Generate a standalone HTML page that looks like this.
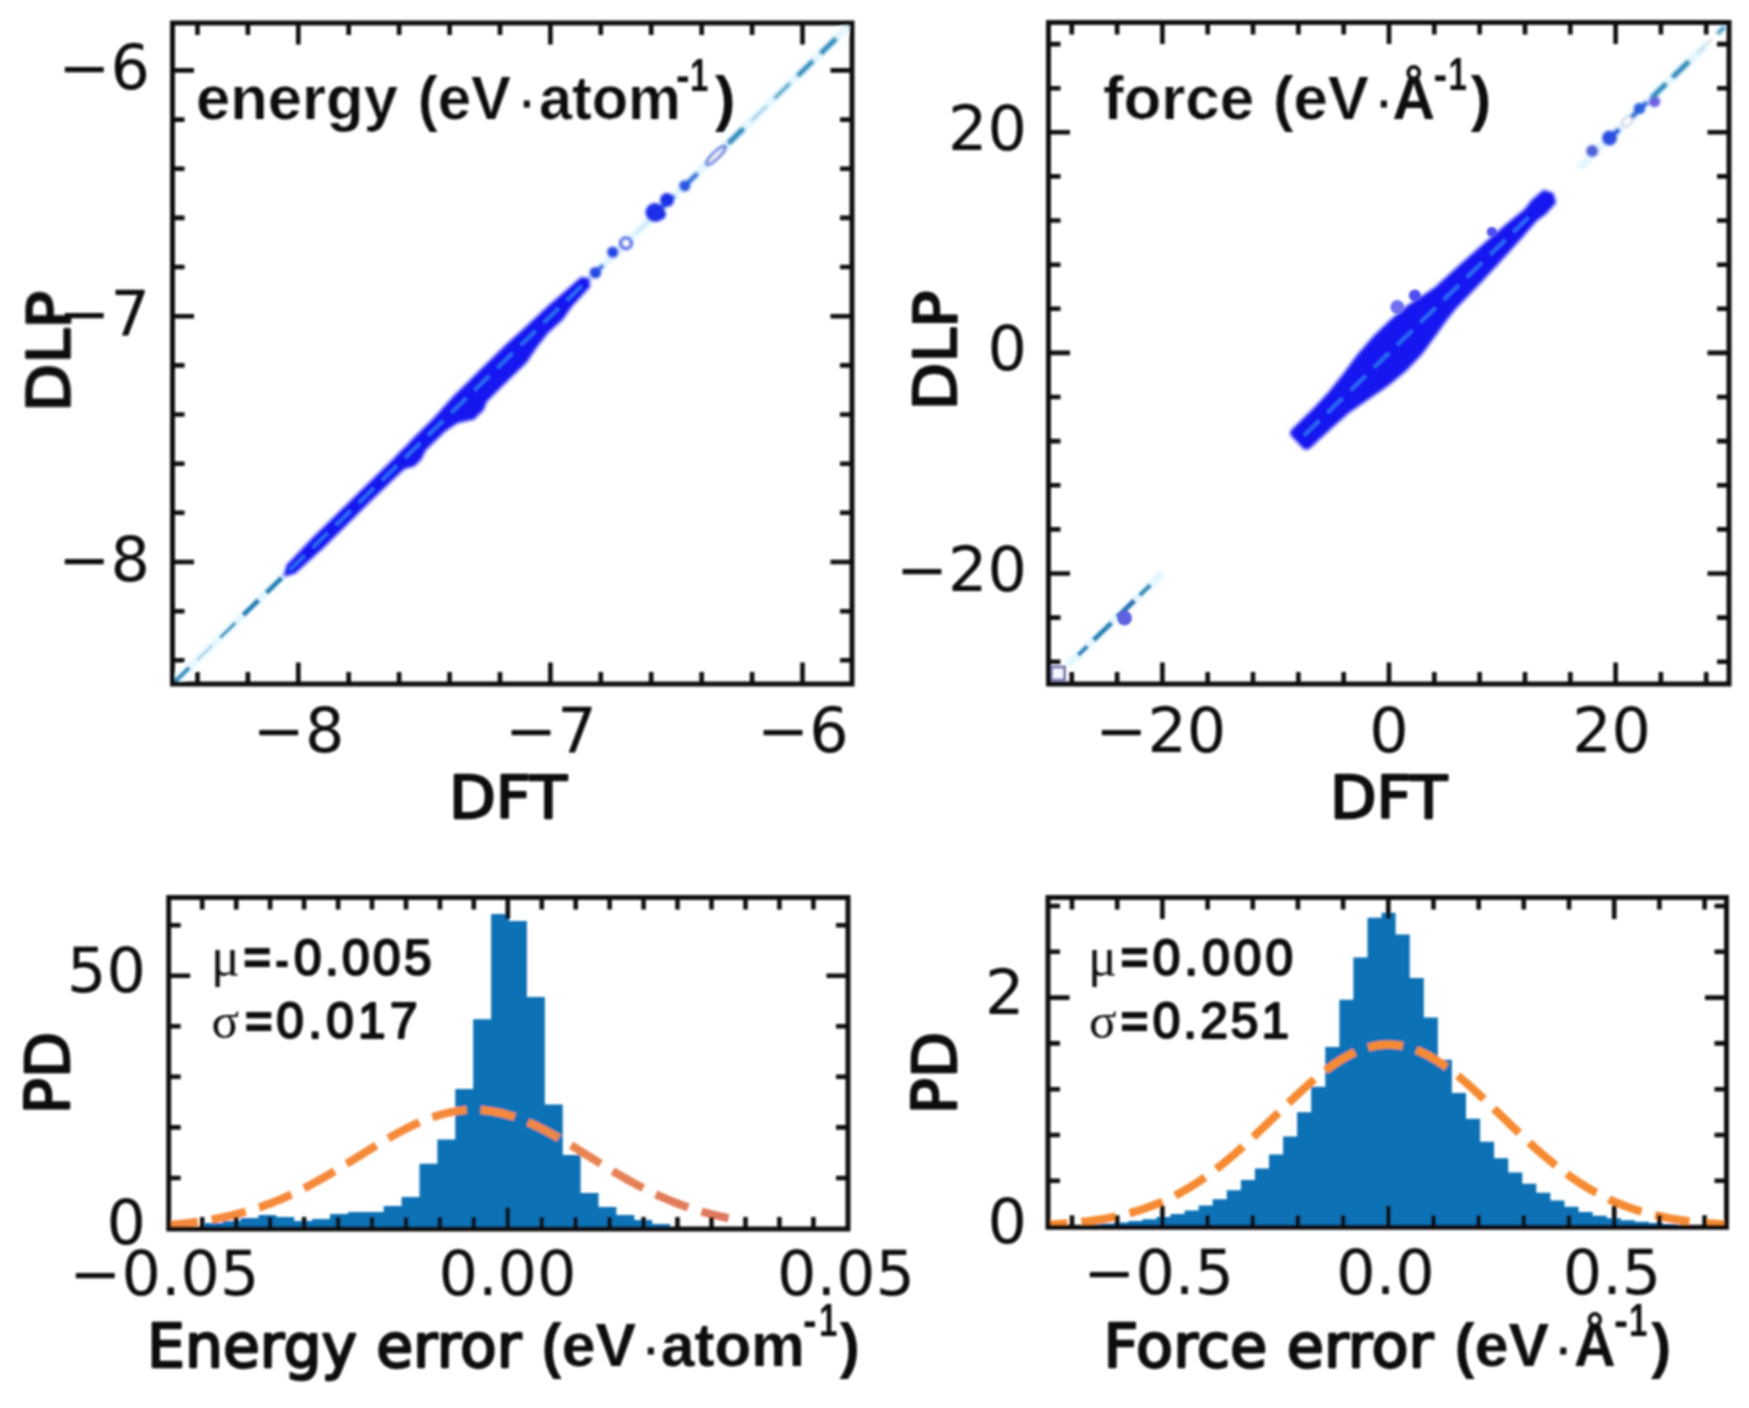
<!DOCTYPE html>
<html lang="en"><head><meta charset="utf-8"><title>DLP vs DFT</title>
<style>
html,body{margin:0;padding:0;background:#fff;}
body{width:1749px;height:1408px;overflow:hidden;}
svg{display:block;}
text{fill:#0a0a0a;}
</style></head><body>
<svg width="1749" height="1408" viewBox="0 0 1749 1408">
<defs>
<linearGradient id="og" gradientUnits="userSpaceOnUse" x1="500" y1="0" x2="740" y2="0"><stop offset="0" stop-color="#f5893a"/><stop offset="0.35" stop-color="#e98452"/><stop offset="1" stop-color="#dc7660"/></linearGradient>
<filter id="soft" x="-2%" y="-2%" width="104%" height="104%"><feGaussianBlur stdDeviation="0.9"/></filter>
<filter id="soft3" x="-5%" y="-5%" width="110%" height="110%"><feGaussianBlur stdDeviation="1.0"/></filter>
<filter id="soft2" x="-5%" y="-5%" width="110%" height="110%"><feGaussianBlur stdDeviation="1.6"/></filter>
</defs>
<rect width="1749" height="1408" fill="#fff"/>
<g filter="url(#soft)">
<g id="panelA">
<clipPath id="cA"><rect x="172.5" y="23" width="679.5" height="661"/></clipPath>
<g clip-path="url(#cA)">
<line x1="172.5" y1="684" x2="852" y2="23" stroke="#e4f7ff" stroke-width="8" filter="url(#soft2)"/>
<line x1="173.9" y1="682.6" x2="189.3" y2="667.7" stroke="#2787b8" stroke-width="4.5" opacity="0.85"/>
<line x1="197.0" y1="660.2" x2="212.4" y2="645.2" stroke="#2787b8" stroke-width="1.8" opacity="0.45"/>
<line x1="220.1" y1="637.7" x2="235.5" y2="622.7" stroke="#2787b8" stroke-width="3.4" opacity="0.8"/>
<line x1="243.2" y1="615.2" x2="258.6" y2="600.2" stroke="#2787b8" stroke-width="5.2" opacity="1"/>
<line x1="266.3" y1="592.8" x2="281.7" y2="577.8" stroke="#2787b8" stroke-width="5.2" opacity="1"/>
<polygon points="283.2,576.7 286.5,565.1 313.2,537.0 363.7,487.8 393.9,458.3 399.9,451.8 407.4,444.4 413.4,437.9 432.5,419.2 442.9,407.7 452.3,397.2 462.4,387.3 467.4,382.4 482.4,367.5 507.6,343.0 520.7,331.2 533.7,319.2 549.2,304.8 560.7,295.0 575.8,281.7 581.2,277.1 589.5,278.1 589.5,278.1 590.2,286.4 585.5,291.7 571.9,306.4 563.1,319.2 547.6,333.5 536.8,347.6 526.7,362.5 501.5,387.1 486.6,402.1 484.0,409.5 474.0,419.4 457.9,423.1 444.8,431.8 425.6,450.5 421.7,459.1 414.2,466.5 404.4,469.0 373.8,498.2 323.7,547.7 294.9,573.7 283.2,576.7" fill="#1418f0" filter="url(#soft2)"/>
<line x1="289.6" y1="570.1" x2="304.6" y2="555.5" stroke="#2c6cf4" stroke-width="4.0" opacity="0.9"/>
<line x1="312.7" y1="547.6" x2="327.7" y2="533.0" stroke="#2c6cf4" stroke-width="4.0" opacity="0.9"/>
<line x1="335.8" y1="525.2" x2="350.8" y2="510.5" stroke="#2c6cf4" stroke-width="4.0" opacity="0.9"/>
<line x1="358.9" y1="502.7" x2="373.9" y2="488.1" stroke="#2c6cf4" stroke-width="4.0" opacity="0.9"/>
<line x1="382.0" y1="480.2" x2="397.0" y2="465.6" stroke="#2c6cf4" stroke-width="4.0" opacity="0.9"/>
<line x1="405.1" y1="457.8" x2="420.1" y2="443.1" stroke="#2c6cf4" stroke-width="4.0" opacity="0.9"/>
<line x1="428.2" y1="435.3" x2="443.2" y2="420.6" stroke="#2c6cf4" stroke-width="4.0" opacity="0.9"/>
<line x1="451.3" y1="412.8" x2="466.3" y2="398.2" stroke="#2c6cf4" stroke-width="4.0" opacity="0.9"/>
<line x1="474.4" y1="390.3" x2="489.4" y2="375.7" stroke="#2c6cf4" stroke-width="4.0" opacity="0.9"/>
<line x1="497.5" y1="367.9" x2="512.5" y2="353.2" stroke="#2c6cf4" stroke-width="4.0" opacity="0.9"/>
<line x1="520.6" y1="345.4" x2="535.6" y2="330.8" stroke="#2c6cf4" stroke-width="4.0" opacity="0.9"/>
<line x1="543.7" y1="322.9" x2="558.7" y2="308.3" stroke="#2c6cf4" stroke-width="4.0" opacity="0.9"/>
<line x1="566.8" y1="300.5" x2="581.8" y2="285.8" stroke="#2c6cf4" stroke-width="4.0" opacity="0.9"/>
<g filter="url(#soft3)">
<line x1="591.7" y1="276.2" x2="603.1" y2="265.1" stroke="#2a6ad8" stroke-width="4" opacity="1.0"/>
<circle cx="595.4" cy="272.7" r="5.8" fill="#2346e4"/>
<circle cx="612.8" cy="252.2" r="5.6" fill="#2346e4"/>
<circle cx="626" cy="243.2" r="5.2" fill="#fff" stroke="#2346e4" stroke-width="3.2"/>
<line x1="635.9" y1="233.2" x2="651.3" y2="218.2" stroke="#2787b8" stroke-width="1.2" opacity="0.25"/>
<line x1="659.0" y1="210.8" x2="674.4" y2="195.8" stroke="#2a6ad8" stroke-width="4.5" opacity="1.0"/>
<circle cx="655" cy="212.5" r="9.5" fill="#1b2ee8"/><circle cx="667" cy="200" r="7" fill="#1b2ee8"/><circle cx="660" cy="214" r="6" fill="#1b2ee8"/>
<line x1="682.1" y1="188.3" x2="697.5" y2="173.3" stroke="#2a6ad8" stroke-width="4.5" opacity="1.0"/>
<circle cx="684.8" cy="185.8" r="5.6" fill="#2a55e0"/>
<ellipse cx="715.9" cy="155.4" rx="13" ry="3.2" fill="#fff" stroke="#3a62d6" stroke-width="2.4" transform="rotate(-44.2 715.9 155.4)"/>
<line x1="728.3" y1="143.3" x2="743.7" y2="128.3" stroke="#2787b8" stroke-width="5.2" opacity="1"/>
<line x1="751.4" y1="120.9" x2="766.8" y2="105.9" stroke="#2787b8" stroke-width="1.5" opacity="0.6"/>
<line x1="774.5" y1="98.4" x2="789.9" y2="83.4" stroke="#2787b8" stroke-width="3" opacity="0.85"/>
<line x1="797.6" y1="75.9" x2="813.0" y2="60.9" stroke="#2787b8" stroke-width="4.8" opacity="1"/>
<line x1="820.7" y1="53.5" x2="836.1" y2="38.5" stroke="#2787b8" stroke-width="5.2" opacity="1"/>
</g>
</g>
<rect x="172.5" y="23" width="679.5" height="661" fill="none" stroke="#0a0a0a" stroke-width="4.9"/>
<path d="M298.3 684v-21.5M298.3 23v21.5M550.4 684v-21.5M550.4 23v21.5M802.5 684v-21.5M802.5 23v21.5M197.5 684v-12M197.5 23v12M247.9 684v-12M247.9 23v12M348.7 684v-12M348.7 23v12M399.1 684v-12M399.1 23v12M449.6 684v-12M449.6 23v12M500.0 684v-12M500.0 23v12M600.8 684v-12M600.8 23v12M651.2 684v-12M651.2 23v12M701.7 684v-12M701.7 23v12M752.1 684v-12M752.1 23v12M172.5 562.0h21.5M852 562.0h-21.5M172.5 316.2h21.5M852 316.2h-21.5M172.5 70.4h21.5M852 70.4h-21.5M172.5 660.3h12M852 660.3h-12M172.5 611.2h12M852 611.2h-12M172.5 512.8h12M852 512.8h-12M172.5 463.7h12M852 463.7h-12M172.5 414.5h12M852 414.5h-12M172.5 365.4h12M852 365.4h-12M172.5 267.0h12M852 267.0h-12M172.5 217.9h12M852 217.9h-12M172.5 168.7h12M852 168.7h-12M172.5 119.6h12M852 119.6h-12" stroke="#0a0a0a" stroke-width="4.6" fill="none"/>
<text x="298.8" y="752.0" font-size="62" font-family="'DejaVu Sans','Liberation Sans',sans-serif" font-weight="normal" text-anchor="middle" >−8</text>
<text x="150.0" y="580.5" font-size="62" font-family="'DejaVu Sans','Liberation Sans',sans-serif" font-weight="normal" text-anchor="end" >−8</text>
<text x="550.9" y="752.0" font-size="62" font-family="'DejaVu Sans','Liberation Sans',sans-serif" font-weight="normal" text-anchor="middle" >−7</text>
<text x="150.0" y="334.7" font-size="62" font-family="'DejaVu Sans','Liberation Sans',sans-serif" font-weight="normal" text-anchor="end" >−7</text>
<text x="803.0" y="752.0" font-size="62" font-family="'DejaVu Sans','Liberation Sans',sans-serif" font-weight="normal" text-anchor="middle" >−6</text>
<text x="150.0" y="88.9" font-size="62" font-family="'DejaVu Sans','Liberation Sans',sans-serif" font-weight="normal" text-anchor="end" >−6</text>
<text x="448.9" y="817.8" font-size="59" font-family="'DejaVu Sans','Liberation Sans',sans-serif" stroke="#0a0a0a" stroke-width="2.3" stroke-linejoin="round" textLength="118.0" lengthAdjust="spacingAndGlyphs">DFT</text>
<text x="69.0" y="351.5" font-size="59" font-family="'DejaVu Sans','Liberation Sans',sans-serif" font-weight="normal" text-anchor="middle" textLength="121.0" lengthAdjust="spacingAndGlyphs" transform="rotate(-90 69.0 351.5)" stroke="#0a0a0a" stroke-width="2.3" stroke-linejoin="round">DLP</text>
<text x="196.0" y="119.0" font-size="61.5" font-family="'Liberation Sans','DejaVu Sans',sans-serif" font-weight="bold" stroke="#fff" stroke-width="0.2" textLength="201.9" lengthAdjust="spacingAndGlyphs">energy</text>
<text x="417.7" y="119.0" font-size="61.5" font-family="'Liberation Sans','DejaVu Sans',sans-serif" font-weight="bold" stroke="#fff" stroke-width="0.2" textLength="93.3" lengthAdjust="spacingAndGlyphs">(eV</text>
<text x="517.4" y="119.0" font-size="56" font-family="'Liberation Sans','DejaVu Sans',sans-serif" stroke="#0a0a0a" stroke-width="0.8" stroke-linejoin="round">·</text>
<text x="538.9" y="119.0" font-size="61.5" font-family="'Liberation Sans','DejaVu Sans',sans-serif" font-weight="bold" stroke="#fff" stroke-width="0.2" textLength="142.0" lengthAdjust="spacingAndGlyphs">atom</text>
<text x="675.9" y="90.5" font-size="46" font-family="'Liberation Sans','DejaVu Sans',sans-serif" font-weight="bold" textLength="13.6" lengthAdjust="spacingAndGlyphs">-</text>
<text x="690.1" y="90.5" font-size="46" font-family="'Liberation Sans','DejaVu Sans',sans-serif" font-weight="bold" textLength="18.4" lengthAdjust="spacingAndGlyphs">1</text>
<text x="715.0" y="119.0" font-size="61.5" font-family="'Liberation Sans','DejaVu Sans',sans-serif" font-weight="bold">)</text>
</g>
<g id="panelB">
<clipPath id="cB"><rect x="1048.5" y="22.5" width="680.5" height="661.5"/></clipPath>
<g clip-path="url(#cB)">
<line x1="1067.6" y1="665.4" x2="1163.0" y2="572.7" stroke="#e4f7ff" stroke-width="8" filter="url(#soft2)"/>
<line x1="1579.1" y1="168.2" x2="1707.0" y2="43.9" stroke="#e4f7ff" stroke-width="8" filter="url(#soft2)"/>
<line x1="1078.1" y1="655.2" x2="1087.4" y2="646.2" stroke="#2787b8" stroke-width="4.6" opacity="0.95"/>
<line x1="1093.5" y1="640.2" x2="1111.5" y2="622.8" stroke="#2787b8" stroke-width="5.2" opacity="1.0"/>
<line x1="1117.1" y1="617.3" x2="1134.4" y2="600.5" stroke="#2a78b8" stroke-width="5.4" opacity="1.0"/>
<circle cx="1124.5" cy="618" r="7.5" fill="#5f62e2"/>
<line x1="1139.6" y1="595.4" x2="1150.4" y2="585.0" stroke="#2787b8" stroke-width="4.6" opacity="0.9"/>
<polygon points="1290.3,435.1 1290.4,430.7 1312.0,409.8 1328.2,392.5 1343.2,373.8 1357.4,354.4 1373.0,336.4 1390.0,319.9 1408.3,304.8 1421.8,295.9 1435.2,287.0 1458.5,265.7 1482.3,244.7 1506.3,224.0 1524.7,208.9 1531.6,200.1 1543.6,189.8 1553.3,193.0 1553.3,193.0 1556.2,202.7 1545.5,214.5 1536.6,221.1 1521.0,239.1 1499.7,262.6 1478.1,285.7 1456.1,308.5 1446.2,321.0 1436.9,334.1 1422.7,353.6 1406.4,370.8 1388.0,385.9 1368.3,399.6 1348.5,413.3 1330.8,429.1 1308.6,449.4 1304.2,449.4" fill="#1418f0" filter="url(#soft2)"/>
<circle cx="1397.4" cy="307.1" r="7" fill="#7070f0"/>
<circle cx="1414.9" cy="295.6" r="6" fill="#5050f0"/>
<circle cx="1491.8" cy="231.9" r="5" fill="#5050f0"/>
<line x1="1304.2" y1="435.4" x2="1319.3" y2="420.8" stroke="#2c6cf4" stroke-width="4.0" opacity="0.9"/>
<line x1="1327.5" y1="412.8" x2="1342.5" y2="398.2" stroke="#2c6cf4" stroke-width="4.0" opacity="0.9"/>
<line x1="1350.7" y1="390.2" x2="1365.8" y2="375.6" stroke="#2c6cf4" stroke-width="4.0" opacity="0.9"/>
<line x1="1374.0" y1="367.6" x2="1389.0" y2="353.0" stroke="#2c6cf4" stroke-width="4.0" opacity="0.9"/>
<line x1="1397.2" y1="345.0" x2="1412.3" y2="330.4" stroke="#2c6cf4" stroke-width="4.0" opacity="0.9"/>
<line x1="1420.5" y1="322.4" x2="1435.5" y2="307.8" stroke="#2c6cf4" stroke-width="4.0" opacity="0.9"/>
<line x1="1443.7" y1="299.8" x2="1458.8" y2="285.2" stroke="#2c6cf4" stroke-width="4.0" opacity="0.9"/>
<line x1="1467.0" y1="277.2" x2="1482.0" y2="262.6" stroke="#2c6cf4" stroke-width="4.0" opacity="0.9"/>
<line x1="1490.2" y1="254.6" x2="1505.3" y2="240.0" stroke="#2c6cf4" stroke-width="4.0" opacity="0.9"/>
<line x1="1513.5" y1="232.0" x2="1528.5" y2="217.4" stroke="#2c6cf4" stroke-width="4.0" opacity="0.9"/>
<g filter="url(#soft3)">
<circle cx="1592.2" cy="151" r="6" fill="#4d60da"/>
<line x1="1604.8" y1="143.2" x2="1619.2" y2="129.3" stroke="#2a5ae0" stroke-width="5" opacity="1.0"/>
<circle cx="1609.5" cy="138" r="7.5" fill="#2a4ee2"/>
<ellipse cx="1627" cy="121.5" rx="6" ry="4" fill="#fff" stroke="#b8c4dc" stroke-width="1.6" transform="rotate(-44 1627 121.5)"/>
<line x1="1631.4" y1="117.4" x2="1647.1" y2="102.1" stroke="#2a6ad0" stroke-width="4.6" opacity="1.0"/>
<circle cx="1639.5" cy="108.5" r="5.8" fill="#2c5ede"/>
<circle cx="1654.5" cy="101.5" r="5.8" fill="#6a60e2"/>
<line x1="1651.8" y1="97.5" x2="1666.2" y2="83.6" stroke="#2787b8" stroke-width="5" opacity="1.0"/>
<line x1="1672.5" y1="77.4" x2="1689.0" y2="61.4" stroke="#2787b8" stroke-width="5" opacity="1.0"/>
<line x1="1697.4" y1="53.2" x2="1704.6" y2="46.2" stroke="#9aa6b0" stroke-width="1.4" opacity="0.7"/>
<line x1="1706.1" y1="44.7" x2="1711.9" y2="39.2" stroke="#9aa6b0" stroke-width="1.4" opacity="0.7"/>
<line x1="1717.4" y1="33.8" x2="1724.6" y2="26.8" stroke="#2787b8" stroke-width="4" opacity="0.85"/>
</g>
<rect x="1051.5" y="667" width="13" height="13" fill="#f4f6ff" stroke="#6a6aa8" stroke-width="3" opacity=".9"/>
</g>
<rect x="1048.5" y="22.5" width="680.5" height="661.5" fill="none" stroke="#0a0a0a" stroke-width="4.9"/>
<path d="M1162.4 684v-21.5M1162.4 22.5v21.5M1389.0 684v-21.5M1389.0 22.5v21.5M1615.6 684v-21.5M1615.6 22.5v21.5M1071.8 684v-12M1071.8 22.5v12M1117.1 684v-12M1117.1 22.5v12M1207.7 684v-12M1207.7 22.5v12M1253.0 684v-12M1253.0 22.5v12M1298.4 684v-12M1298.4 22.5v12M1343.7 684v-12M1343.7 22.5v12M1434.3 684v-12M1434.3 22.5v12M1479.6 684v-12M1479.6 22.5v12M1525.0 684v-12M1525.0 22.5v12M1570.3 684v-12M1570.3 22.5v12M1660.9 684v-12M1660.9 22.5v12M1706.2 684v-12M1706.2 22.5v12M1048.5 573.5h21.5M1729 573.5h-21.5M1048.5 352.9h21.5M1729 352.9h-21.5M1048.5 132.3h21.5M1729 132.3h-21.5M1048.5 661.7h12M1729 661.7h-12M1048.5 617.6h12M1729 617.6h-12M1048.5 529.4h12M1729 529.4h-12M1048.5 485.3h12M1729 485.3h-12M1048.5 441.1h12M1729 441.1h-12M1048.5 397.0h12M1729 397.0h-12M1048.5 308.8h12M1729 308.8h-12M1048.5 264.7h12M1729 264.7h-12M1048.5 220.5h12M1729 220.5h-12M1048.5 176.4h12M1729 176.4h-12M1048.5 88.2h12M1729 88.2h-12M1048.5 44.1h12M1729 44.1h-12" stroke="#0a0a0a" stroke-width="4.6" fill="none"/>
<text x="1160.9" y="752.0" font-size="62" font-family="'DejaVu Sans','Liberation Sans',sans-serif" font-weight="normal" text-anchor="middle" >−20</text>
<text x="1027.0" y="591.0" font-size="62" font-family="'DejaVu Sans','Liberation Sans',sans-serif" font-weight="normal" text-anchor="end" >−20</text>
<text x="1389.0" y="752.0" font-size="62" font-family="'DejaVu Sans','Liberation Sans',sans-serif" font-weight="normal" text-anchor="middle" >0</text>
<text x="1027.0" y="370.4" font-size="62" font-family="'DejaVu Sans','Liberation Sans',sans-serif" font-weight="normal" text-anchor="end" >0</text>
<text x="1611.6" y="752.0" font-size="62" font-family="'DejaVu Sans','Liberation Sans',sans-serif" font-weight="normal" text-anchor="middle" >20</text>
<text x="1027.0" y="149.8" font-size="62" font-family="'DejaVu Sans','Liberation Sans',sans-serif" font-weight="normal" text-anchor="end" >20</text>
<text x="1330.0" y="817.8" font-size="59" font-family="'DejaVu Sans','Liberation Sans',sans-serif" stroke="#0a0a0a" stroke-width="2.3" stroke-linejoin="round" textLength="117.3" lengthAdjust="spacingAndGlyphs">DFT</text>
<text x="955.5" y="350.5" font-size="59" font-family="'DejaVu Sans','Liberation Sans',sans-serif" font-weight="normal" text-anchor="middle" textLength="120.0" lengthAdjust="spacingAndGlyphs" transform="rotate(-90 955.5 350.5)" stroke="#0a0a0a" stroke-width="2.3" stroke-linejoin="round">DLP</text>
<text x="1102.9" y="118.5" font-size="61.5" font-family="'Liberation Sans','DejaVu Sans',sans-serif" font-weight="bold" stroke="#fff" stroke-width="0.2" textLength="151.3" lengthAdjust="spacingAndGlyphs">force</text>
<text x="1273.0" y="118.5" font-size="61.5" font-family="'Liberation Sans','DejaVu Sans',sans-serif" font-weight="bold" stroke="#fff" stroke-width="0.2" textLength="96.0" lengthAdjust="spacingAndGlyphs">(eV</text>
<text x="1374.4" y="118.5" font-size="56" font-family="'Liberation Sans','DejaVu Sans',sans-serif" stroke="#0a0a0a" stroke-width="0.8" stroke-linejoin="round">·</text>
<text x="1392.4" y="118.5" font-size="61.5" font-family="'Liberation Sans','DejaVu Sans',sans-serif" font-weight="bold" textLength="42.5" lengthAdjust="spacingAndGlyphs">Å</text>
<text x="1433.5" y="89.5" font-size="46" font-family="'Liberation Sans','DejaVu Sans',sans-serif" font-weight="bold" textLength="13.7" lengthAdjust="spacingAndGlyphs">-</text>
<text x="1448.6" y="89.5" font-size="46" font-family="'Liberation Sans','DejaVu Sans',sans-serif" font-weight="bold" textLength="18.4" lengthAdjust="spacingAndGlyphs">1</text>
<text x="1470.7" y="118.5" font-size="61.5" font-family="'Liberation Sans','DejaVu Sans',sans-serif" font-weight="bold">)</text>
</g>
<g id="panelC">
<clipPath id="cC"><rect x="168.7" y="897.5" width="679.3" height="331.5"/></clipPath>
<g clip-path="url(#cC)">
<path d="M204.7 1229V1223.0H222.6V1221.0H240.5V1218.0H258.4V1215.0H276.3V1217.0H294.2V1221.0H312.1V1219.0H330.0V1214.0H347.9V1212.0H365.8V1212.0H383.7V1206.0H401.6V1197.0H419.5V1163.8H437.4V1139.5H455.3V1089.0H473.2V1019.3H491.1V914.0H509.0V921.0H526.9V997.0H544.8V1104.5H562.7V1155.0H580.6V1193.0H598.5V1207.0H616.4V1215.0H634.3V1220.0H652.2V1224.0H670.1V1229Z" fill="#0871b5"/>
<polyline points="168.3,1224.9 169.9,1224.8 171.6,1224.7 173.2,1224.5 174.9,1224.4 176.5,1224.2 178.2,1224.0 179.8,1223.9 181.5,1223.7 183.1,1223.5 184.8,1223.3 186.4,1223.2 188.1,1223.0 189.7,1222.8 191.4,1222.6 193.0,1222.4 194.7,1222.1 196.3,1221.9 198.0,1221.7 199.6,1221.4 201.3,1221.2 202.9,1221.0 204.5,1220.7 206.2,1220.4 207.8,1220.2 209.5,1219.9 211.1,1219.6 212.8,1219.3 214.4,1219.0 216.1,1218.7 217.7,1218.4 219.4,1218.1 221.0,1217.7 222.7,1217.4 224.3,1217.0 226.0,1216.7 227.6,1216.3 229.3,1215.9 230.9,1215.5 232.6,1215.2 234.2,1214.8 235.9,1214.3 237.5,1213.9 239.1,1213.5 240.8,1213.0 242.4,1212.6 244.1,1212.1 245.7,1211.7 247.4,1211.2 249.0,1210.7 250.7,1210.2 252.3,1209.7 254.0,1209.2 255.6,1208.6 257.3,1208.1 258.9,1207.5 260.6,1207.0 262.2,1206.4 263.9,1205.8 265.5,1205.2 267.2,1204.6 268.8,1204.0 270.4,1203.4 272.1,1202.7 273.7,1202.1 275.4,1201.4 277.0,1200.8 278.7,1200.1 280.3,1199.4 282.0,1198.7 283.6,1198.0 285.3,1197.3 286.9,1196.5 288.6,1195.8 290.2,1195.0 291.9,1194.3 293.5,1193.5 295.2,1192.7 296.8,1191.9 298.5,1191.1 300.1,1190.3 301.8,1189.5 303.4,1188.6 305.0,1187.8 306.7,1186.9 308.3,1186.1 310.0,1185.2 311.6,1184.3 313.3,1183.4 314.9,1182.5 316.6,1181.6 318.2,1180.7 319.9,1179.8 321.5,1178.8 323.2,1177.9 324.8,1177.0 326.5,1176.0 328.1,1175.0 329.8,1174.1 331.4,1173.1 333.1,1172.1 334.7,1171.1 336.4,1170.1 338.0,1169.2 339.6,1168.2 341.3,1167.1 342.9,1166.1 344.6,1165.1 346.2,1164.1 347.9,1163.1 349.5,1162.1 351.2,1161.1 352.8,1160.0 354.5,1159.0 356.1,1158.0 357.8,1157.0 359.4,1155.9 361.1,1154.9 362.7,1153.9 364.4,1152.8 366.0,1151.8 367.7,1150.8 369.3,1149.8 371.0,1148.8 372.6,1147.8 374.2,1146.7 375.9,1145.7 377.5,1144.7 379.2,1143.7 380.8,1142.8 382.5,1141.8 384.1,1140.8 385.8,1139.8 387.4,1138.9 389.1,1137.9 390.7,1137.0 392.4,1136.0 394.0,1135.1 395.7,1134.2 397.3,1133.3 399.0,1132.4 400.6,1131.5 402.3,1130.6 403.9,1129.8 405.6,1128.9 407.2,1128.1 408.8,1127.3 410.5,1126.5 412.1,1125.7 413.8,1124.9 415.4,1124.1 417.1,1123.4 418.7,1122.7 420.4,1121.9 422.0,1121.2 423.7,1120.6 425.3,1119.9 427.0,1119.3 428.6,1118.6 430.3,1118.0 431.9,1117.5 433.6,1116.9 435.2,1116.3 436.9,1115.8 438.5,1115.3 440.1,1114.8 441.8,1114.4 443.4,1113.9 445.1,1113.5 446.7,1113.1 448.4,1112.7 450.0,1112.4 451.7,1112.0 453.3,1111.7 455.0,1111.4 456.6,1111.2 458.3,1110.9 459.9,1110.7 461.6,1110.5 463.2,1110.4 464.9,1110.2 466.5,1110.1 468.2,1110.0 469.8,1109.9 471.5,1109.9 473.1,1109.9 474.7,1109.9 476.4,1109.9 478.0,1110.0 479.7,1110.0 481.3,1110.1 483.0,1110.2 484.6,1110.4 486.3,1110.6 487.9,1110.8 489.6,1111.0 491.2,1111.2 492.9,1111.5 494.5,1111.8 496.2,1112.1 497.8,1112.4 499.5,1112.8 501.1,1113.1 502.8,1113.5 504.4,1114.0 506.1,1114.4 507.7,1114.9 509.3,1115.4 511.0,1115.9 512.6,1116.4 514.3,1116.9 515.9,1117.5 517.6,1118.1 519.2,1118.7 520.9,1119.3 522.5,1120.0 524.2,1120.6 525.8,1121.3 527.5,1122.0 529.1,1122.7 530.8,1123.5 532.4,1124.2 534.1,1125.0 535.7,1125.7 537.4,1126.5 539.0,1127.3 540.7,1128.2 542.3,1129.0 543.9,1129.8 545.6,1130.7 547.2,1131.6 548.9,1132.5 550.5,1133.4 552.2,1134.3 553.8,1135.2 555.5,1136.1 557.1,1137.1 558.8,1138.0 560.4,1139.0 562.1,1139.9 563.7,1140.9 565.4,1141.9 567.0,1142.8 568.7,1143.8 570.3,1144.8 572.0,1145.8 573.6,1146.8 575.3,1147.8 576.9,1148.9 578.5,1149.9 580.2,1150.9 581.8,1151.9 583.5,1152.9 585.1,1154.0 586.8,1155.0 588.4,1156.0 590.1,1157.0 591.7,1158.1 593.4,1159.1 595.0,1160.1 596.7,1161.1 598.3,1162.2 600.0,1163.2 601.6,1164.2 603.3,1165.2 604.9,1166.2 606.6,1167.2 608.2,1168.2 609.8,1169.2 611.5,1170.2 613.1,1171.2 614.8,1172.2 616.4,1173.2 618.1,1174.2 619.7,1175.1 621.4,1176.1 623.0,1177.0 624.7,1178.0 626.3,1178.9 628.0,1179.9 629.6,1180.8 631.3,1181.7 632.9,1182.6 634.6,1183.5 636.2,1184.4 637.9,1185.3 639.5,1186.1 641.2,1187.0 642.8,1187.9 644.4,1188.7 646.1,1189.5 647.7,1190.4 649.4,1191.2 651.0,1192.0 652.7,1192.8 654.3,1193.6 656.0,1194.3 657.6,1195.1 659.3,1195.9 660.9,1196.6 662.6,1197.3 664.2,1198.1 665.9,1198.8 667.5,1199.5 669.2,1200.2 670.8,1200.8 672.5,1201.5 674.1,1202.2 675.8,1202.8 677.4,1203.4 679.0,1204.1 680.7,1204.7 682.3,1205.3 684.0,1205.9 685.6,1206.5 687.3,1207.0 688.9,1207.6 690.6,1208.1 692.2,1208.7 693.9,1209.2 695.5,1209.7 697.2,1210.2 698.8,1210.7 700.5,1211.2 702.1,1211.7 703.8,1212.2 705.4,1212.6 707.1,1213.1 708.7,1213.5 710.4,1214.0 712.0,1214.4 713.6,1214.8 715.3,1215.2 716.9,1215.6 718.6,1216.0 720.2,1216.3 721.9,1216.7 723.5,1217.1 725.2,1217.4 726.8,1217.8 728.5,1218.1" fill="none" stroke="url(#og)" stroke-width="8.2" stroke-dasharray="35 14" stroke-dashoffset="5.3"/>
</g>
<rect x="168.7" y="897.5" width="679.3" height="331.5" fill="none" stroke="#0a0a0a" stroke-width="4.9"/>
<path d="M507.8 1229v-21.5M507.8 897.5v21.5M202.2 1229v-12M202.2 897.5v12M236.2 1229v-12M236.2 897.5v12M270.1 1229v-12M270.1 897.5v12M304.1 1229v-12M304.1 897.5v12M338.1 1229v-12M338.1 897.5v12M372.0 1229v-12M372.0 897.5v12M406.0 1229v-12M406.0 897.5v12M439.9 1229v-12M439.9 897.5v12M473.8 1229v-12M473.8 897.5v12M541.8 1229v-12M541.8 897.5v12M575.7 1229v-12M575.7 897.5v12M609.6 1229v-12M609.6 897.5v12M643.6 1229v-12M643.6 897.5v12M677.5 1229v-12M677.5 897.5v12M711.5 1229v-12M711.5 897.5v12M745.5 1229v-12M745.5 897.5v12M779.4 1229v-12M779.4 897.5v12M813.4 1229v-12M813.4 897.5v12M168.7 975.8h21.5M848 975.8h-21.5M168.7 1178.0h12M848 1178.0h-12M168.7 1127.4h12M848 1127.4h-12M168.7 1076.8h12M848 1076.8h-12M168.7 1026.3h12M848 1026.3h-12M168.7 925.2h12M848 925.2h-12" stroke="#0a0a0a" stroke-width="4.6" fill="none"/>
<text x="507.5" y="1295.0" font-size="62" font-family="'DejaVu Sans','Liberation Sans',sans-serif" font-weight="normal" text-anchor="middle" >0.00</text>
<text x="846.0" y="1295.0" font-size="62" font-family="'DejaVu Sans','Liberation Sans',sans-serif" font-weight="normal" text-anchor="middle" >0.05</text>
<text x="259.5" y="1295.0" font-size="62" font-family="'DejaVu Sans','Liberation Sans',sans-serif" font-weight="normal" text-anchor="end" >−0.05</text>
<text x="146.0" y="992.0" font-size="62" font-family="'DejaVu Sans','Liberation Sans',sans-serif" font-weight="normal" text-anchor="end" >50</text>
<text x="146.0" y="1244.0" font-size="62" font-family="'DejaVu Sans','Liberation Sans',sans-serif" font-weight="normal" text-anchor="end" >0</text>
<text x="69.0" y="1073.0" font-size="60" font-family="'DejaVu Sans','Liberation Sans',sans-serif" font-weight="normal" text-anchor="middle" transform="rotate(-90 69.0 1073.0)" stroke="#0a0a0a" stroke-width="2.3" stroke-linejoin="round">PD</text>
<text x="147.0" y="1366.5" font-size="60" font-family="'DejaVu Sans','Liberation Sans',sans-serif" font-weight="normal" text-anchor="start" stroke="#0a0a0a" stroke-width="2.3" stroke-linejoin="round">Energy error</text>
<text x="541.5" y="1366.0" font-size="61.5" font-family="'Liberation Sans','DejaVu Sans',sans-serif" font-weight="bold" textLength="94.5" lengthAdjust="spacingAndGlyphs">(eV</text>
<text x="641.4" y="1366.0" font-size="56" font-family="'Liberation Sans','DejaVu Sans',sans-serif" stroke="#0a0a0a" stroke-width="0.8" stroke-linejoin="round">·</text>
<text x="661.0" y="1366.0" font-size="61.5" font-family="'Liberation Sans','DejaVu Sans',sans-serif" font-weight="bold" textLength="143.6" lengthAdjust="spacingAndGlyphs">atom</text>
<text x="803.1" y="1335.5" font-size="46" font-family="'Liberation Sans','DejaVu Sans',sans-serif" font-weight="bold" textLength="13.6" lengthAdjust="spacingAndGlyphs">-</text>
<text x="819.1" y="1335.5" font-size="46" font-family="'Liberation Sans','DejaVu Sans',sans-serif" font-weight="bold" textLength="18.4" lengthAdjust="spacingAndGlyphs">1</text>
<text x="839.5" y="1366.0" font-size="61.5" font-family="'Liberation Sans','DejaVu Sans',sans-serif" font-weight="bold">)</text>
<text x="211.0" y="974.5" font-size="54" font-family="'Liberation Serif','DejaVu Serif',serif">μ</text>
<text x="240.6" y="975.0" font-size="56" font-family="'DejaVu Sans','Liberation Sans',sans-serif" font-weight="bold" textLength="33.5" lengthAdjust="spacingAndGlyphs">=</text>
<text x="274.5" y="976.0" font-size="42" font-family="'DejaVu Sans','Liberation Sans',sans-serif" font-weight="bold" textLength="15" lengthAdjust="spacingAndGlyphs">-</text>
<text x="294.0" y="974.5" font-size="49.5" font-family="'Liberation Sans','DejaVu Sans',sans-serif" stroke="#0a0a0a" stroke-width="2.1" stroke-linejoin="round" textLength="137.5" lengthAdjust="spacing">0.005</text>
<text x="211.5" y="1038" font-size="51" font-family="'Liberation Serif','DejaVu Serif',serif">σ</text>
<text x="242.0" y="1038.5" font-size="56" font-family="'DejaVu Sans','Liberation Sans',sans-serif" font-weight="bold" textLength="33.5" lengthAdjust="spacingAndGlyphs">=</text>
<text x="276.3" y="1038" font-size="49.5" font-family="'Liberation Sans','DejaVu Sans',sans-serif" stroke="#0a0a0a" stroke-width="2.1" stroke-linejoin="round" textLength="141.2" lengthAdjust="spacing">0.017</text>
</g>
<g id="panelD">
<clipPath id="cD"><rect x="1048" y="897.5" width="678.5" height="329.79999999999995"/></clipPath>
<g clip-path="url(#cD)">
<path d="M1043.9 1227.3V1225.9H1058.0V1225.5H1072.0V1225.0H1086.1V1224.3H1100.2V1223.5H1114.2V1222.4H1128.3V1221.0H1142.4V1219.3H1156.4V1217.0H1170.5V1214.1H1184.6V1210.4H1198.7V1205.6H1212.7V1199.2H1226.8V1190.3H1240.9V1180.0H1254.9V1168.5H1269.0V1154.5H1283.1V1136.6H1297.1V1112.3H1311.2V1086.7H1325.3V1047.0H1339.4V999.8H1353.4V957.5H1367.5V917.8H1381.6V912.8H1395.6V934.5H1409.7V978.0H1423.8V1017.6H1437.8V1059.8H1451.9V1093.1H1466.0V1118.7H1480.1V1141.7H1494.1V1158.3H1508.2V1172.4H1522.3V1183.8H1536.3V1192.8H1550.4V1200.5H1564.5V1206.8H1578.5V1212.0H1592.6V1215.8H1606.7V1218.3H1620.8V1220.3H1634.8V1221.8H1648.9V1223.0H1663.0V1224.0H1677.0V1224.7H1691.1V1225.3H1705.2V1225.7H1719.2V1226.1H1733.3V1227.3Z" fill="#0871b5"/>
<polyline points="1049.4,1224.5 1051.4,1224.4 1053.4,1224.3 1055.4,1224.2 1057.4,1224.0 1059.4,1223.9 1061.4,1223.7 1063.4,1223.6 1065.4,1223.4 1067.4,1223.3 1069.4,1223.1 1071.4,1222.9 1073.4,1222.8 1075.4,1222.6 1077.4,1222.4 1079.3,1222.2 1081.3,1221.9 1083.3,1221.7 1085.3,1221.5 1087.3,1221.2 1089.3,1221.0 1091.3,1220.7 1093.3,1220.4 1095.3,1220.1 1097.3,1219.8 1099.3,1219.5 1101.3,1219.2 1103.3,1218.9 1105.3,1218.5 1107.3,1218.2 1109.2,1217.8 1111.2,1217.4 1113.2,1217.0 1115.2,1216.6 1117.2,1216.1 1119.2,1215.7 1121.2,1215.2 1123.2,1214.8 1125.2,1214.3 1127.2,1213.8 1129.2,1213.2 1131.2,1212.7 1133.2,1212.1 1135.2,1211.5 1137.2,1210.9 1139.1,1210.3 1141.1,1209.7 1143.1,1209.0 1145.1,1208.3 1147.1,1207.6 1149.1,1206.9 1151.1,1206.2 1153.1,1205.4 1155.1,1204.6 1157.1,1203.8 1159.1,1203.0 1161.1,1202.2 1163.1,1201.3 1165.1,1200.4 1167.1,1199.5 1169.0,1198.5 1171.0,1197.6 1173.0,1196.6 1175.0,1195.6 1177.0,1194.5 1179.0,1193.5 1181.0,1192.4 1183.0,1191.3 1185.0,1190.1 1187.0,1189.0 1189.0,1187.8 1191.0,1186.6 1193.0,1185.3 1195.0,1184.1 1196.9,1182.8 1198.9,1181.5 1200.9,1180.1 1202.9,1178.8 1204.9,1177.4 1206.9,1176.0 1208.9,1174.5 1210.9,1173.1 1212.9,1171.6 1214.9,1170.1 1216.9,1168.5 1218.9,1167.0 1220.9,1165.4 1222.9,1163.8 1224.9,1162.2 1226.8,1160.5 1228.8,1158.9 1230.8,1157.2 1232.8,1155.5 1234.8,1153.8 1236.8,1152.0 1238.8,1150.3 1240.8,1148.5 1242.8,1146.7 1244.8,1144.9 1246.8,1143.1 1248.8,1141.2 1250.8,1139.4 1252.8,1137.5 1254.8,1135.6 1256.7,1133.7 1258.7,1131.8 1260.7,1129.9 1262.7,1128.0 1264.7,1126.1 1266.7,1124.2 1268.7,1122.2 1270.7,1120.3 1272.7,1118.4 1274.7,1116.4 1276.7,1114.5 1278.7,1112.5 1280.7,1110.6 1282.7,1108.7 1284.7,1106.7 1286.6,1104.8 1288.6,1102.9 1290.6,1101.0 1292.6,1099.1 1294.6,1097.2 1296.6,1095.4 1298.6,1093.5 1300.6,1091.7 1302.6,1089.8 1304.6,1088.0 1306.6,1086.2 1308.6,1084.5 1310.6,1082.7 1312.6,1081.0 1314.6,1079.3 1316.5,1077.6 1318.5,1076.0 1320.5,1074.4 1322.5,1072.8 1324.5,1071.2 1326.5,1069.7 1328.5,1068.2 1330.5,1066.8 1332.5,1065.4 1334.5,1064.0 1336.5,1062.7 1338.5,1061.4 1340.5,1060.1 1342.5,1058.9 1344.4,1057.7 1346.4,1056.6 1348.4,1055.5 1350.4,1054.5 1352.4,1053.5 1354.4,1052.6 1356.4,1051.7 1358.4,1050.8 1360.4,1050.0 1362.4,1049.3 1364.4,1048.6 1366.4,1048.0 1368.4,1047.4 1370.4,1046.9 1372.4,1046.4 1374.3,1046.0 1376.3,1045.6 1378.3,1045.3 1380.3,1045.1 1382.3,1044.9 1384.3,1044.7 1386.3,1044.6 1388.3,1044.6 1390.3,1044.6 1392.3,1044.7 1394.3,1044.9 1396.3,1045.1 1398.3,1045.3 1400.3,1045.6 1402.3,1046.0 1404.2,1046.4 1406.2,1046.9 1408.2,1047.4 1410.2,1048.0 1412.2,1048.6 1414.2,1049.3 1416.2,1050.0 1418.2,1050.8 1420.2,1051.7 1422.2,1052.6 1424.2,1053.5 1426.2,1054.5 1428.2,1055.5 1430.2,1056.6 1432.2,1057.7 1434.1,1058.9 1436.1,1060.1 1438.1,1061.4 1440.1,1062.7 1442.1,1064.0 1444.1,1065.4 1446.1,1066.8 1448.1,1068.2 1450.1,1069.7 1452.1,1071.2 1454.1,1072.8 1456.1,1074.4 1458.1,1076.0 1460.1,1077.6 1462.0,1079.3 1464.0,1081.0 1466.0,1082.7 1468.0,1084.5 1470.0,1086.2 1472.0,1088.0 1474.0,1089.8 1476.0,1091.7 1478.0,1093.5 1480.0,1095.4 1482.0,1097.2 1484.0,1099.1 1486.0,1101.0 1488.0,1102.9 1490.0,1104.8 1491.9,1106.7 1493.9,1108.7 1495.9,1110.6 1497.9,1112.5 1499.9,1114.5 1501.9,1116.4 1503.9,1118.4 1505.9,1120.3 1507.9,1122.2 1509.9,1124.2 1511.9,1126.1 1513.9,1128.0 1515.9,1129.9 1517.9,1131.8 1519.9,1133.7 1521.8,1135.6 1523.8,1137.5 1525.8,1139.4 1527.8,1141.2 1529.8,1143.1 1531.8,1144.9 1533.8,1146.7 1535.8,1148.5 1537.8,1150.3 1539.8,1152.0 1541.8,1153.8 1543.8,1155.5 1545.8,1157.2 1547.8,1158.9 1549.8,1160.5 1551.7,1162.2 1553.7,1163.8 1555.7,1165.4 1557.7,1167.0 1559.7,1168.5 1561.7,1170.1 1563.7,1171.6 1565.7,1173.1 1567.7,1174.5 1569.7,1176.0 1571.7,1177.4 1573.7,1178.8 1575.7,1180.1 1577.7,1181.5 1579.7,1182.8 1581.6,1184.1 1583.6,1185.3 1585.6,1186.6 1587.6,1187.8 1589.6,1189.0 1591.6,1190.1 1593.6,1191.3 1595.6,1192.4 1597.6,1193.5 1599.6,1194.5 1601.6,1195.6 1603.6,1196.6 1605.6,1197.6 1607.6,1198.5 1609.5,1199.5 1611.5,1200.4 1613.5,1201.3 1615.5,1202.2 1617.5,1203.0 1619.5,1203.8 1621.5,1204.6 1623.5,1205.4 1625.5,1206.2 1627.5,1206.9 1629.5,1207.6 1631.5,1208.3 1633.5,1209.0 1635.5,1209.7 1637.5,1210.3 1639.4,1210.9 1641.4,1211.5 1643.4,1212.1 1645.4,1212.7 1647.4,1213.2 1649.4,1213.8 1651.4,1214.3 1653.4,1214.8 1655.4,1215.2 1657.4,1215.7 1659.4,1216.1 1661.4,1216.6 1663.4,1217.0 1665.4,1217.4 1667.4,1217.8 1669.3,1218.2 1671.3,1218.5 1673.3,1218.9 1675.3,1219.2 1677.3,1219.5 1679.3,1219.8 1681.3,1220.1 1683.3,1220.4 1685.3,1220.7 1687.3,1221.0 1689.3,1221.2 1691.3,1221.5 1693.3,1221.7 1695.3,1221.9 1697.3,1222.2 1699.2,1222.4 1701.2,1222.6 1703.2,1222.8 1705.2,1222.9 1707.2,1223.1 1709.2,1223.3 1711.2,1223.4 1713.2,1223.6 1715.2,1223.7 1717.2,1223.9 1719.2,1224.0 1721.2,1224.2 1723.2,1224.3 1725.2,1224.4 1727.2,1224.5" fill="none" stroke="#f58a30" stroke-width="8.2" stroke-dasharray="35 14" stroke-dashoffset="16.9"/>
</g>
<rect x="1048" y="897.5" width="678.5" height="329.79999999999995" fill="none" stroke="#0a0a0a" stroke-width="4.9"/>
<path d="M1162.4 1227.3v-21.5M1162.4 897.5v21.5M1388.3 1227.3v-21.5M1388.3 897.5v21.5M1614.2 1227.3v-21.5M1614.2 897.5v21.5M1072.0 1227.3v-12M1072.0 897.5v12M1117.2 1227.3v-12M1117.2 897.5v12M1207.6 1227.3v-12M1207.6 897.5v12M1252.8 1227.3v-12M1252.8 897.5v12M1297.9 1227.3v-12M1297.9 897.5v12M1343.1 1227.3v-12M1343.1 897.5v12M1433.5 1227.3v-12M1433.5 897.5v12M1478.7 1227.3v-12M1478.7 897.5v12M1523.8 1227.3v-12M1523.8 897.5v12M1569.0 1227.3v-12M1569.0 897.5v12M1659.4 1227.3v-12M1659.4 897.5v12M1704.6 1227.3v-12M1704.6 897.5v12M1048 997.6h21.5M1726.5 997.6h-21.5M1048 1180.8h12M1726.5 1180.8h-12M1048 1135.0h12M1726.5 1135.0h-12M1048 1089.2h12M1726.5 1089.2h-12M1048 1043.4h12M1726.5 1043.4h-12M1048 951.8h12M1726.5 951.8h-12M1048 906.0h12M1726.5 906.0h-12" stroke="#0a0a0a" stroke-width="4.6" fill="none"/>
<text x="1385.5" y="1294.0" font-size="62" font-family="'DejaVu Sans','Liberation Sans',sans-serif" font-weight="normal" text-anchor="middle" >0.0</text>
<text x="1612.0" y="1294.0" font-size="62" font-family="'DejaVu Sans','Liberation Sans',sans-serif" font-weight="normal" text-anchor="middle" >0.5</text>
<text x="1234.0" y="1294.0" font-size="62" font-family="'DejaVu Sans','Liberation Sans',sans-serif" font-weight="normal" text-anchor="end" >−0.5</text>
<text x="1024.5" y="1014.0" font-size="62" font-family="'DejaVu Sans','Liberation Sans',sans-serif" font-weight="normal" text-anchor="end" >2</text>
<text x="1027.0" y="1242.5" font-size="62" font-family="'DejaVu Sans','Liberation Sans',sans-serif" font-weight="normal" text-anchor="end" >0</text>
<text x="956.0" y="1073.0" font-size="60" font-family="'DejaVu Sans','Liberation Sans',sans-serif" font-weight="normal" text-anchor="middle" transform="rotate(-90 956.0 1073.0)" stroke="#0a0a0a" stroke-width="2.3" stroke-linejoin="round">PD</text>
<text x="1103.4" y="1366.5" font-size="60" font-family="'DejaVu Sans','Liberation Sans',sans-serif" stroke="#0a0a0a" stroke-width="2.3" stroke-linejoin="round" textLength="330.0" lengthAdjust="spacingAndGlyphs">Force error</text>
<text x="1454.5" y="1366.0" font-size="61.5" font-family="'Liberation Sans','DejaVu Sans',sans-serif" font-weight="bold" textLength="94.5" lengthAdjust="spacingAndGlyphs">(eV</text>
<text x="1554.1" y="1366.0" font-size="56" font-family="'Liberation Sans','DejaVu Sans',sans-serif" stroke="#0a0a0a" stroke-width="0.8" stroke-linejoin="round">·</text>
<text x="1574.1" y="1366.0" font-size="61.5" font-family="'Liberation Sans','DejaVu Sans',sans-serif" font-weight="bold" textLength="41.7" lengthAdjust="spacingAndGlyphs">Å</text>
<text x="1614.1" y="1335.5" font-size="46" font-family="'Liberation Sans','DejaVu Sans',sans-serif" font-weight="bold" textLength="14.1" lengthAdjust="spacingAndGlyphs">-</text>
<text x="1629.1" y="1335.5" font-size="46" font-family="'Liberation Sans','DejaVu Sans',sans-serif" font-weight="bold" textLength="18.4" lengthAdjust="spacingAndGlyphs">1</text>
<text x="1651.0" y="1366.0" font-size="61.5" font-family="'Liberation Sans','DejaVu Sans',sans-serif" font-weight="bold">)</text>
<text x="1088.0" y="974.5" font-size="54" font-family="'Liberation Serif','DejaVu Serif',serif">μ</text>
<text x="1117.8" y="975.0" font-size="56" font-family="'DejaVu Sans','Liberation Sans',sans-serif" font-weight="bold" textLength="33.5" lengthAdjust="spacingAndGlyphs">=</text>
<text x="1152.7" y="974.5" font-size="49.5" font-family="'Liberation Sans','DejaVu Sans',sans-serif" stroke="#0a0a0a" stroke-width="2.1" stroke-linejoin="round" textLength="140.3" lengthAdjust="spacing">0.000</text>
<text x="1089.0" y="1038" font-size="51" font-family="'Liberation Serif','DejaVu Serif',serif">σ</text>
<text x="1117.8" y="1038.5" font-size="56" font-family="'DejaVu Sans','Liberation Sans',sans-serif" font-weight="bold" textLength="33.5" lengthAdjust="spacingAndGlyphs">=</text>
<text x="1152.7" y="1038" font-size="49.5" font-family="'Liberation Sans','DejaVu Sans',sans-serif" stroke="#0a0a0a" stroke-width="2.1" stroke-linejoin="round" textLength="136.3" lengthAdjust="spacing">0.251</text>
</g>
</g></svg></body></html>
